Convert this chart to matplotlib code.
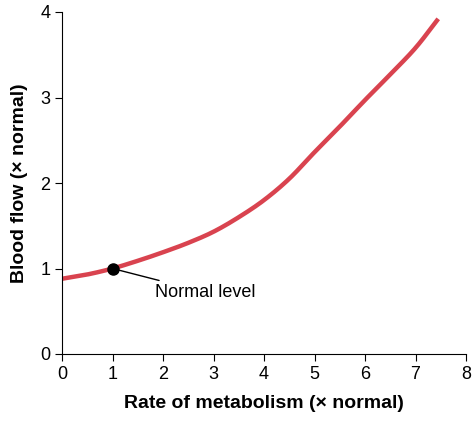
import matplotlib
matplotlib.use("Agg")
import matplotlib.pyplot as plt
import numpy as np

x_vals = [0, 0.5, 1, 1.5, 2, 2.5, 3, 3.5, 4, 4.5, 5, 5.5, 6, 6.5, 7, 7.45]
y_vals = [0.88, 0.93, 1.0, 1.09, 1.19, 1.3, 1.43, 1.6, 1.8, 2.05, 2.36, 2.66, 2.97, 3.27, 3.58, 3.92]
point_x, point_y = 1, 1.0
annot = "Normal level"

def catmull(xs, ys, n=20):
    P = np.column_stack([xs, ys])
    P = np.vstack([2*P[0]-P[1], P, 2*P[-1]-P[-2]])
    out = []
    t = np.linspace(0, 1, n, endpoint=False)[:, None]
    for i in range(1, len(P)-2):
        p0, p1, p2, p3 = P[i-1], P[i], P[i+1], P[i+2]
        out.append(0.5*((2*p1) + (-p0+p2)*t + (2*p0-5*p1+4*p2-p3)*t**2 + (-p0+3*p1-3*p2+p3)*t**3))
    out.append(P[-2][None, :])
    return np.vstack(out)

plt.rcParams['font.family'] = ['Liberation Sans', 'DejaVu Sans']
fig = plt.figure(figsize=(4.74, 4.22), dpi=100)
ax = fig.add_axes([62/474, 68/422, 404/474, 342/422])
c = catmull(x_vals, y_vals)
ax.plot(c[:, 0], c[:, 1], color='#d9434f', lw=3.2, solid_capstyle='butt')
ax.plot([point_x], [point_y], 'o', color='black', ms=8, zorder=5)
ax.annotate(annot, xy=(point_x, point_y), xytext=(1.85, 0.72), fontsize=13,
            va='center', arrowprops=dict(arrowstyle='-', color='black', lw=1))
ax.set_xlim(0, 8)
ax.set_ylim(0, 4)
ax.set_xticks(range(0, 9))
ax.set_yticks(range(0, 5))
ax.spines['top'].set_visible(False)
ax.spines['right'].set_visible(False)
ax.tick_params(direction='out', labelsize=13, length=5)
ax.set_xlabel("Rate of metabolism (× normal)", fontsize=14, fontweight='bold', labelpad=9)
ax.set_ylabel("Blood flow (× normal)", fontsize=14, fontweight='bold', labelpad=9)
fig.savefig("out.png", dpi=100)
